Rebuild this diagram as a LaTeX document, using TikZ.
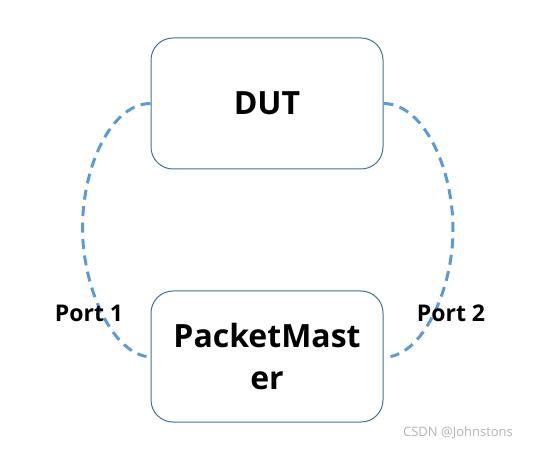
\documentclass[tikz,border=0pt]{standalone}
\usepackage{fontspec}
\setmainfont{Open Sans}
\usepackage{xcolor}
\usetikzlibrary{positioning}
\definecolor{boxline}{HTML}{41719C}
\definecolor{linkblue}{HTML}{5B9BD5}

\begin{document}
\begin{tikzpicture}[
  x=1pt, y=-1pt,
  box/.style={draw=boxline, line width=1pt, rounded corners=22pt, fill=white,
    minimum width=232pt, minimum height=131pt, inner sep=0pt, align=center,
    font=\fontsize{32}{42}\selectfont\bfseries},
  portlabel/.style={font=\fontsize{23}{27}\selectfont\bfseries},
  link/.style={draw=linkblue, line width=3pt, dash pattern=on 10pt off 6.5pt}
]
\useasboundingbox (0,0) rectangle (536,449);

% Devices
\node[box] (dut) at (267,103.5) {DUT};
\node[box] (pm) at (267,356.5) {PacketMast\\er};

% Cables
\coordinate (p1end) at ([xshift=-4pt]pm.west);
\coordinate (p2end) at ([xshift=7pt]pm.east);
\draw[link] (dut.west) .. controls (112,103.5) and (82.5,165) .. (82.5,228)
  .. controls (82.5,285) and (110,350) .. (p1end);
\draw[link] (dut.east) .. controls (422,103.5) and (453,165) .. (453,230)
  .. controls (453,287) and (425,350) .. (p2end);

% Port labels
\node[portlabel] (port1) at (89,313) {Port 1};
\node[portlabel] (port2) at (451,313) {Port 2};

% Watermark
\node[text=gray!60, font=\fontsize{13}{15}\selectfont] (mark) at (458,433) {CSDN @Johnstons};

\end{tikzpicture}
\end{document}
